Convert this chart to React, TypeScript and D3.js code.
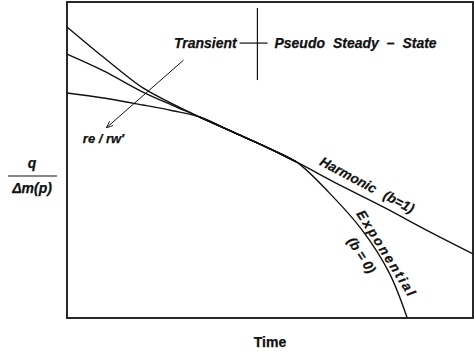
import { useEffect, useRef } from 'react'
import * as d3 from 'd3'

// Decline curve sketch (time 0-100, rate 0-100)
const transientTop: [number, number][] = [[0, 92.1], [9, 82.5], [18.7, 72.8], [26, 67.8]]
const transientMid: [number, number][] = [[0, 83.5], [9, 78.2], [18.7, 71.5], [26, 67.3]]
const transientLow: [number, number][] = [[0, 71.2], [9, 69.6], [18.7, 67.4], [26, 65.6]]
const pseudoSteady: [number, number][] = [[32.7, 63.6], [40.8, 58.9], [49.1, 54.1], [56.5, 49.4]]
const harmonic: [number, number][] = [[56.5, 49.4], [67, 42.2], [78.1, 35.0], [89, 27.5], [100, 20.3]]
const exponential: [number, number][] = [[56.5, 49.4], [64.6, 39.6], [72.7, 27.8], [79.4, 14.2], [83.8, 0]]

const xDomain = [0, 100]
const yDomain = [0, 100]

function App() {
  const svgRef = useRef<SVGSVGElement>(null)

  useEffect(() => {
    if (!svgRef.current) return
    const W = 474
    const H = 353
    const margin = { top: 2, right: 1, bottom: 35, left: 67 }
    const width = W - margin.left - margin.right
    const height = H - margin.top - margin.bottom

    const root = d3.select(svgRef.current)
    root.selectAll('*').remove()
    root.attr('width', W).attr('height', H)

    const x = d3.scaleLinear().domain(xDomain).range([margin.left, margin.left + width])
    const y = d3.scaleLinear().domain(yDomain).range([margin.top + height, margin.top])

    const font = '"Liberation Sans", Arial, Helvetica, sans-serif'
    const ink = '#111'

    root.append('defs').append('marker')
      .attr('id', 'arrow')
      .attr('viewBox', '0 0 10 10')
      .attr('refX', 9).attr('refY', 5)
      .attr('markerWidth', 7).attr('markerHeight', 7)
      .attr('orient', 'auto')
      .append('path')
      .attr('d', 'M0,1 L10,5 L0,9')
      .attr('fill', 'none')
      .attr('stroke', ink)
      .attr('stroke-width', 1.2)

    // frame
    root.append('rect')
      .attr('x', margin.left).attr('y', margin.top)
      .attr('width', width).attr('height', height)
      .attr('fill', 'none')
      .attr('stroke', ink)
      .attr('stroke-width', 1.8)

    const line = d3.line<[number, number]>()
      .x(d => x(d[0]))
      .y(d => y(d[1]))
      .curve(d3.curveCatmullRom.alpha(0.5))

    const paths: [number, number][][] = [
      [...transientTop, ...pseudoSteady],
      [...transientMid, ...pseudoSteady],
      [...transientLow, ...pseudoSteady],
      [...pseudoSteady.slice(0, -1), ...harmonic],
      [...pseudoSteady.slice(0, -1), ...exponential],
    ]

    root.append('g')
      .selectAll('path')
      .data(paths)
      .enter()
      .append('path')
      .attr('d', d => line(d))
      .attr('fill', 'none')
      .attr('stroke', ink)
      .attr('stroke-width', 1.4)

    // flow regime divider
    root.append('line')
      .attr('x1', x(46.9)).attr('x2', x(46.9))
      .attr('y1', y(98.1)).attr('y2', y(75.3))
      .attr('stroke', ink).attr('stroke-width', 1.2)
    root.append('line')
      .attr('x1', x(42.5)).attr('x2', x(49.4))
      .attr('y1', y(87)).attr('y2', y(87))
      .attr('stroke', ink).attr('stroke-width', 1.2)

    const label = (txt: string, px: number, py: number, opts: { anchor?: string, size?: number, italic?: boolean, rotate?: number, spacing?: number, wordSpacing?: number } = {}) => {
      const t = root.append('text')
        .attr('x', px).attr('y', py)
        .attr('text-anchor', opts.anchor || 'start')
        .style('font-family', font)
        .style('font-weight', 'bold')
        .style('font-style', opts.italic === false ? 'normal' : 'italic')
        .style('font-size', `${opts.size || 14}px`)
        .style('fill', ink)
        .style('stroke', ink)
        .style('stroke-width', 0.25)
        .text(txt)
      if (opts.spacing) t.style('letter-spacing', `${opts.spacing}px`)
      if (opts.wordSpacing) t.style('word-spacing', `${opts.wordSpacing}px`)
      if (opts.rotate) t.attr('transform', `rotate(${opts.rotate},${px},${py})`)
      return t
    }

    label('Transient', x(41.8), y(85.4), { anchor: 'end' })
    label('Pseudo Steady – State', x(51.1), y(85.4), { wordSpacing: 4 })

    // arrow towards increasing re/rw'
    root.append('line')
      .attr('x1', x(28.7)).attr('y1', y(81.6))
      .attr('x2', x(9.8)).attr('y2', y(60.3))
      .attr('stroke', ink).attr('stroke-width', 1)
      .attr('marker-end', 'url(#arrow)')
    label('re / rw′', x(3.9), y(55.4), { size: 13 })

    label('Harmonic (b=1)', x(62.0), y(48.6), { rotate: 28, size: 13.5, wordSpacing: 6 })
    label('Exponential', x(71.2), y(33.0), { rotate: 58, size: 13.5, spacing: 2.2 })
    label('(b = 0)', x(68.9), y(24.4), { rotate: 57, size: 13.5 })

    // axis titles
    label('Time', x(50), H - 6, { anchor: 'middle', italic: false })
    const yc = 32
    label('q', yc, 168, { anchor: 'middle' })
    root.append('line')
      .attr('x1', 8).attr('x2', 57)
      .attr('y1', 176).attr('y2', 176)
      .attr('stroke', ink).attr('stroke-width', 1.2)
    label('Δm(p)', yc, 193, { anchor: 'middle' })
  }, [])

  return (
    <svg ref={svgRef} style={{ position: 'absolute', left: 0, top: 0, background: '#fff' }} />
  )
}

export default App
